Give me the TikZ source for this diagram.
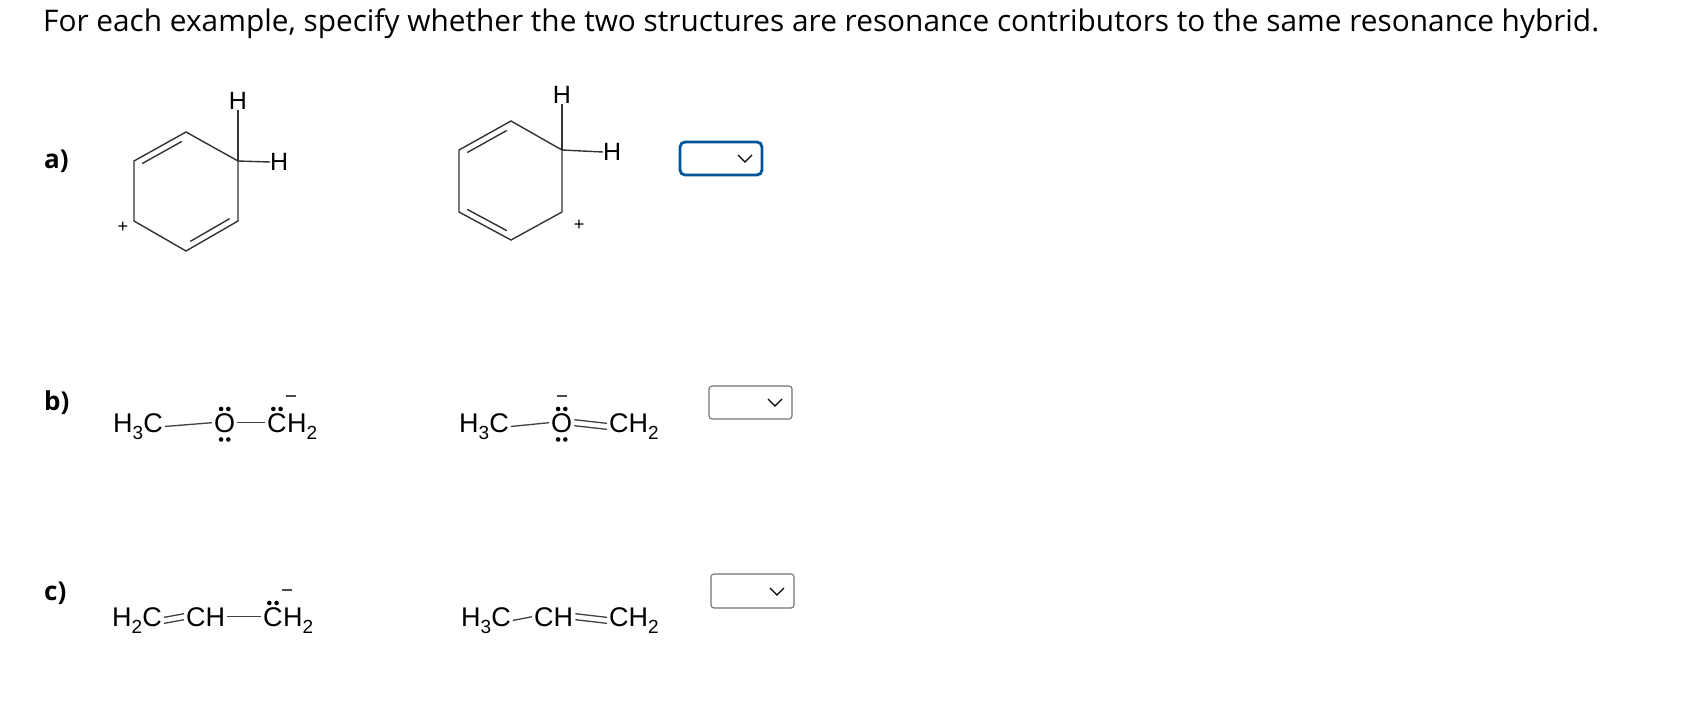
\documentclass[tikz,border=0pt]{standalone}
\usepackage{fontspec}
\setmainfont{Open Sans}
\newfontfamily\chemf{Liberation Sans}
\usetikzlibrary{calc}
\newcommand{\sbs}[1]{\raisebox{-0.28em}{\fontsize{19}{19}\selectfont #1}}
\tikzset{
  atom/.style={inner sep=0pt,anchor=base west,font=\chemf\fontsize{27}{27}\selectfont},
  hatom/.style={inner sep=0pt,font=\chemf\fontsize{25}{25}\selectfont},
  bond/.style={line width=1.3pt,draw=black!75},
  ring/.style={line width=1.4pt,draw=black!80},
  dd/.style={fill=black,circle,inner sep=0pt,minimum size=4.6pt},
  drop/.style={draw=black!55,line width=1.1pt,rounded corners=3pt,fill=white},
  lab/.style={anchor=base west,font=\bfseries\fontsize{26}{26}\selectfont,inner sep=0pt},
}
\newcommand{\lp}[1]{\node[dd] at ($(#1)+(-3.6,0)$) {};\node[dd] at ($(#1)+(3.6,0)$) {};}
\begin{document}
\begin{tikzpicture}[x=1pt,y=-1pt]
\useasboundingbox (0,0) rectangle (1694,710);
\fill[white] (0,0) rectangle (1694,710);
\node[anchor=base west,inner sep=0pt,font=\fontsize{29.8}{29.8}\selectfont] (title) at (43,31) {For each example, specify whether the two structures are resonance contributors to the same resonance hybrid.};
\node[lab] (la) at (44,168) {a)};
\node[lab] (lb) at (44,410) {b)};
\node[lab] (lc) at (44,600) {c)};
% ring a
\coordinate (a1) at (186,132);\coordinate (a2) at (238,161);\coordinate (a3) at (238,221);
\coordinate (a4) at (186,251);\coordinate (a5) at (134,221);\coordinate (a6) at (134,161);
\draw[ring] (a1)--(a2)--(a3)--(a4)--(a5)--(a6)--cycle;
\draw[ring] ($(a6)!0.12!(a1)+(2,6)$)--($(a6)!0.88!(a1)+(2,6)$);
\draw[ring] ($(a3)!0.12!(a4)+(-2,-6)$)--($(a3)!0.88!(a4)+(-2,-6)$);
\node[hatom,anchor=south] (ha1) at (238,110) {H};
\node[hatom,anchor=west] (ha2) at (270,162) {H};
\draw[ring] (a2)--(ha1.south);
\draw[ring] (a2)--(ha2.west);
\node[font=\chemf\fontsize{18}{18}\selectfont,inner sep=0pt] (pa) at (123,227) {+};
% ring b
\coordinate (b1) at (511,121);\coordinate (b2) at (562,150);\coordinate (b3) at (562,212);
\coordinate (b4) at (511,240);\coordinate (b5) at (459,212);\coordinate (b6) at (459,150);
\draw[ring] (b1)--(b2)--(b3)--(b4)--(b5)--(b6)--cycle;
\draw[ring] ($(b6)!0.12!(b1)+(2,6)$)--($(b6)!0.88!(b1)+(2,6)$);
\draw[ring] ($(b5)!0.12!(b4)+(2,-6)$)--($(b5)!0.88!(b4)+(2,-6)$);
\node[hatom,anchor=south] (hb1) at (562,104) {H};
\node[hatom,anchor=west] (hb2) at (603,152) {H};
\draw[ring] (b2)--(hb1.south);
\draw[ring] (b2)--(hb2.west);
\node[font=\chemf\fontsize{18}{18}\selectfont,inner sep=0pt] (pb) at (579,225) {+};
\draw[draw=blue!45!cyan!60!black,line width=2.8pt,rounded corners=5pt] (680,142) rectangle (762,175) coordinate (da);
\draw[line width=1.1pt] ($(da)+(-24,-20)$)--($(da)+(-17,-13)$)--($(da)+(-10,-20)$);
% row b left
\node[atom] (b1a) at (113,432) {H\sbs{3}C};
\node[atom] (b1o) at (214,432) {O};
\node[atom] (b1c) at (267,432) {C};
\node[atom] (b1h) at (b1c.base east) {H\sbs{2}};
\draw[bond] ($(b1a.east)+(2,0)$)--($(b1o.west)+(-2,0)$);
\draw[bond] ($(b1o.east)+(2,0)$)--($(b1c.west)+(-2,0)$);
\lp{$(b1o.north)+(0,-4)$}\lp{$(b1o.south)+(0,7)$}
\lp{$(b1c.north)+(0,-4)$}
\draw[line width=1.2pt,black!70] ($(b1c.north east)+(-1,-17)$)--++(10,0);
% row b right
\node[atom] (b2a) at (459,432) {H\sbs{3}C};
\node[atom] (b2o) at (551,432) {O};
\node[atom] (b2c) at (609,432) {CH\sbs{2}};
\draw[bond] ($(b2a.east)+(2,0)$)--($(b2o.west)+(-2,0)$);
\draw[bond] ($(b2o.east)+(2,-3)$)--($(b2c.west)+(-2,-3)$);
\draw[bond] ($(b2o.east)+(2,3)$)--($(b2c.west)+(-2,3)$);
\lp{$(b2o.north)+(0,-4)$}\lp{$(b2o.south)+(0,7)$}
\draw[line width=1.2pt,black!70] ($(b2o.north)+(-5,-17)$)--++(10,0);
\draw[drop] (709,386) rectangle (792,419) coordinate (db);
\draw[line width=1.1pt] ($(db)+(-24,-20)$)--($(db)+(-17,-13)$)--($(db)+(-10,-20)$);
% row c left
\node[atom] (c1a) at (112,626) {H\sbs{2}C};
\node[atom] (c1b) at (186,626) {CH};
\node[atom] (c1c) at (263,626) {C};
\node[atom] (c1h) at (c1c.base east) {H\sbs{2}};
\draw[bond] ($(c1a.east)+(2,-3)$)--($(c1b.west)+(-2,-3)$);
\draw[bond] ($(c1a.east)+(2,3)$)--($(c1b.west)+(-2,3)$);
\draw[bond] ($(c1b.east)+(2,0)$)--($(c1c.west)+(-2,0)$);
\lp{$(c1c.north)+(0,-4)$}
\draw[line width=1.2pt,black!70] ($(c1c.north east)+(-1,-17)$)--++(10,0);
% row c right
\node[atom] (c2a) at (461,626) {H\sbs{3}C};
\node[atom] (c2b) at (534,626) {CH};
\node[atom] (c2c) at (609,626) {CH\sbs{2}};
\draw[bond] ($(c2a.east)+(2,0)$)--($(c2b.west)+(-2,0)$);
\draw[bond] ($(c2b.east)+(2,-3)$)--($(c2c.west)+(-2,-3)$);
\draw[bond] ($(c2b.east)+(2,3)$)--($(c2c.west)+(-2,3)$);
\draw[drop] (711,574) rectangle (794,608) coordinate (dc);
\draw[line width=1.1pt] ($(dc)+(-24,-20)$)--($(dc)+(-17,-13)$)--($(dc)+(-10,-20)$);
\end{tikzpicture}
\end{document}
